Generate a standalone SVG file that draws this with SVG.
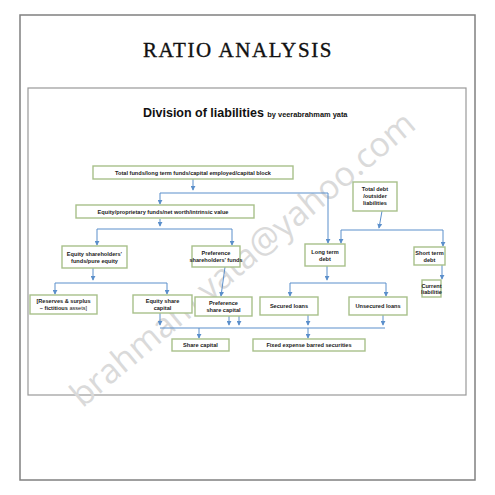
<svg xmlns="http://www.w3.org/2000/svg" width="495" height="495" viewBox="0 0 495 495">
<defs>
<marker id="ah" viewBox="0 0 6 6" refX="5" refY="3" markerWidth="5" markerHeight="5" orient="auto" markerUnits="userSpaceOnUse">
<path d="M0,0 L6,3 L0,6 z" fill="#5b8fcb"/>
</marker>
<style>
.box{fill:#fff;stroke:#a8c08a;stroke-width:1.4}
.t{font-family:"Liberation Sans",Arial,sans-serif;font-weight:bold;font-size:5.6px;fill:#1a1a1a;text-anchor:middle}
.c{fill:none;stroke:#5b8fcb;stroke-width:1}
.a{marker-end:url(#ah)}
</style>
</defs>
<rect width="495" height="495" fill="#fff"/>
<rect x="20" y="15" width="455" height="465" fill="none" stroke="#808080" stroke-width="1.5"/>
<text x="238" y="57" font-family="Liberation Serif,Times New Roman,serif" font-size="21" letter-spacing="1.6" text-anchor="middle" fill="#111" stroke="#111" stroke-width="0.35">RATIO ANALYSIS</text>
<rect x="28" y="88" width="438" height="307" fill="none" stroke="#999" stroke-width="1.2"/>
<text x="250" y="268" transform="rotate(-40 250 268)" font-family="Open Sans,Liberation Sans,sans-serif" font-size="34" text-anchor="middle" fill="#dadada">brahmam.yata@yahoo.com</text>
<text x="143" y="117" font-family="Liberation Sans,Arial,sans-serif" font-weight="bold" font-size="12.5" fill="#111">Division of liabilities <tspan font-size="7.4">by veerabrahmam yata</tspan></text>
<g id="connectors">
<path class="c a" d="M193,179 V190"/>
<path class="c" d="M160,193 H328"/>
<path class="c a" d="M160,193 V204"/>
<path class="c a" d="M328,193 V243"/>
<path class="c a" d="M382,211 L379,228"/>
<path class="c" d="M341,230 H443"/>
<path class="c a" d="M341,230 V243"/>
<path class="c a" d="M443,230 V246"/>
<path class="c a" d="M160,219 V226"/>
<path class="c" d="M97,229 H232"/>
<path class="c a" d="M97,229 V245"/>
<path class="c a" d="M232,229 V245"/>
<path class="c a" d="M93,268 V280"/>
<path class="c" d="M55,283 H167"/>
<path class="c a" d="M55,283 V294"/>
<path class="c a" d="M167,283 V294"/>
<path class="c a" d="M225,267 L221,296"/>
<path class="c a" d="M327,266 V280"/>
<path class="c" d="M290,283 H386"/>
<path class="c a" d="M290,283 V296"/>
<path class="c a" d="M386,283 V296"/>
<path class="c a" d="M442,265 V279"/>
<path class="c a" d="M160,313 V325"/>
<path class="c a" d="M229,316 V325"/>
<path class="c a" d="M239,316 V325"/>
<path class="c a" d="M308,315 V325"/>
<path class="c a" d="M383,315 V325"/>
<path class="c" d="M160,328 H385"/>
<path class="c a" d="M199,328 V338"/>
<path class="c a" d="M308,328 V338"/>
</g>
<g id="total-funds"><rect class="box" x="93" y="166" width="200" height="13"/><text class="t" x="193" y="174.6" font-size="6.4">Total funds/long term funds/capital employed/capital block</text></g>
<g id="equity-funds"><rect class="box" x="76" y="205" width="178" height="13"/><text class="t" x="163" y="213.6" font-size="6">Equity/proprietary funds/net worth/intrinsic value</text></g>
<g id="total-debt"><rect class="box" x="353" y="182" width="44" height="29"/><text class="t" x="375" y="191">Total debt</text><text class="t" x="375" y="198">/outsider</text><text class="t" x="375" y="205">liabilities</text></g>
<g id="long-term-debt"><rect class="box" x="305" y="244" width="40" height="22"/><text class="t" x="325" y="254">Long term</text><text class="t" x="325" y="261">debt</text></g>
<g id="short-term-debt"><rect class="box" x="414" y="247" width="31" height="18"/><text class="t" x="429.5" y="255" font-size="5.2">Short term</text><text class="t" x="429.5" y="261.5" font-size="5.2">debt</text></g>
<g id="current-liabilities"><rect class="box" x="422" y="280" width="19" height="17"/><text class="t" x="431.5" y="287.5" font-size="4.6">Current</text><text class="t" x="431.5" y="293.5" font-size="4.6">liabilitie</text></g>
<g id="equity-shareholders"><rect class="box" x="62" y="246" width="65" height="22"/><text class="t" x="94.5" y="255.5" font-size="5.3">Equity shareholders’</text><text class="t" x="94.5" y="262.5" font-size="5.3">funds/pure equity</text></g>
<g id="preference-shareholders"><rect class="box" x="192" y="246" width="48" height="21"/><text class="t" x="216" y="255" font-size="4.8">Preference</text><text class="t" x="216" y="262" font-size="4.8">shareholders’ funds</text></g>
<g id="reserves"><rect class="box" x="30" y="295" width="67" height="19"/><text class="t" x="63.5" y="303">[Reserves &amp; surplus</text><text class="t" x="63.5" y="310">– fictitious <tspan font-weight="normal">assets]</tspan></text></g>
<g id="equity-share-capital"><rect class="box" x="133" y="295" width="59" height="18"/><text class="t" x="162.5" y="303">Equity share</text><text class="t" x="162.5" y="310">capital</text></g>
<g id="preference-share-capital"><rect class="box" x="195" y="297" width="57" height="19"/><text class="t" x="223.5" y="305">Preference</text><text class="t" x="223.5" y="312">share capital</text></g>
<g id="secured-loans"><rect class="box" x="260" y="297" width="58" height="18"/><text class="t" x="289" y="308" font-size="5.8">Secured loans</text></g>
<g id="unsecured-loans"><rect class="box" x="349" y="297" width="58" height="18"/><text class="t" x="378" y="308" font-size="5.8">Unsecured loans</text></g>
<g id="share-capital"><rect class="box" x="172" y="339" width="57" height="12"/><text class="t" x="200.5" y="347">Share capital</text></g>
<g id="fixed-expense"><rect class="box" x="253" y="339" width="112" height="12"/><text class="t" x="309" y="347">Fixed expense barred securities</text></g>
</svg>
